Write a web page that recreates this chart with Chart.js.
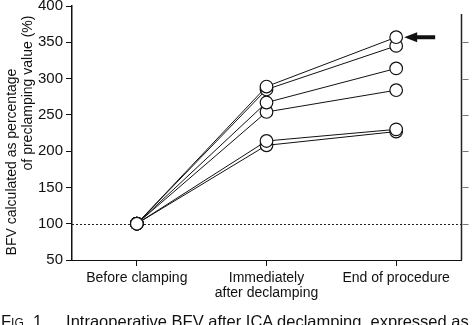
<!DOCTYPE html>
<html>
<head>
<meta charset="utf-8">
<script src="https://cdn.jsdelivr.net/npm/chart.js@4"></script>
<style>
  html, body { margin: 0; padding: 0; background: #fff; }
  #wrap { position: relative; width: 474px; height: 325px; overflow: hidden; }
  #c { position: absolute; left: 0; top: -6px; }
  #caption {
    position: absolute; left: 1px; top: 312px; white-space: nowrap;
    font-family: "Liberation Sans", Arial, sans-serif; font-size: 16.5px; color: #111;
  }
  #caption .fig { font-variant: small-caps; margin-right: 24px; }
</style>
</head>
<body>
<div id="wrap">
  <canvas id="c" width="474" height="331"></canvas>
  <div id="caption"><span class="fig">Fig. 1</span>Intraoperative BFV after ICA declamping, expressed as</div>
</div>
<script>
// categories on the x axis
var timePoints = ['Before clamping', ['Immediately', 'after declamping'], 'End of procedure'];

// one array per patient, % of preclamping BFV
var patient1 = [100, 289, 357];
var patient2 = [100, 285, 345];
var patient3 = [100, 267, 314];
var patient4 = [100, 254, 284];
var patient5 = [100, 214, 230];
var patient6 = [100, 208, 227];

var yTicks = [50, 100, 150, 200, 250, 300, 350, 400];
var yTitle = ['BFV calculated as percentage', 'of preclamping value (%)'];
var baseline = 100;
var arrowPatient = 0; // index of the marked patient

var allPatients = [patient1, patient2, patient3, patient4, patient5, patient6];

var datasets = allPatients.map(function (vals) {
    return {
        data: vals,
        borderColor: '#111',
        borderWidth: 1,
        pointRadius: 6.3,
        pointBorderWidth: 1.2,
        pointBackgroundColor: '#fff',
        pointBorderColor: '#111',
        tension: 0
    };
});

var font = "'Liberation Sans', Arial, sans-serif";

// dotted baseline, right frame with ticks, y title and arrow
var extras = {
    id: 'extras',
    beforeDatasetsDraw: function (chart) {
        var ctx = chart.ctx, area = chart.chartArea, y = chart.scales.y;
        var yb = Math.round(y.getPixelForValue(baseline)) + 0.5;
        ctx.save();
        ctx.strokeStyle = '#222';
        ctx.lineWidth = 1;
        ctx.setLineDash([2, 2]);
        ctx.beginPath();
        ctx.moveTo(area.left, yb);
        ctx.lineTo(area.right, yb);
        ctx.stroke();
        ctx.setLineDash([]);

        // right frame
        var xr = area.right + 0.5;
        ctx.lineWidth = 1.5;
        ctx.beginPath();
        ctx.moveTo(xr, y.getPixelForValue(389));
        ctx.lineTo(xr, area.bottom);
        ctx.stroke();
        ctx.lineWidth = 1;
        ctx.strokeStyle = '#777';
        yTicks.forEach(function (v) {
            if (v === 50 || v === 400) return;
            var p = Math.round(y.getPixelForValue(v)) + 0.5;
            ctx.beginPath();
            ctx.moveTo(xr + 1, p);
            ctx.lineTo(xr + 7, p);
            ctx.stroke();
        });

        // rotated y title, two lines placed like the original
        ctx.fillStyle = '#111';
        ctx.font = '14px ' + font;
        ctx.textAlign = 'center';
        ctx.textBaseline = 'middle';
        var centers = [[12, 168], [28, 99]];
        yTitle.forEach(function (line, i) {
            ctx.save();
            ctx.translate(centers[i][0], centers[i][1]);
            ctx.rotate(-Math.PI / 2);
            ctx.fillText(line, 0, 0);
            ctx.restore();
        });
        ctx.restore();
    },
    afterDatasetsDraw: function (chart) {
        var ctx = chart.ctx;
        var pt = chart.getDatasetMeta(arrowPatient).data[2];
        var x0 = pt.x + 8, yy = pt.y;
        ctx.save();
        ctx.fillStyle = '#111';
        ctx.beginPath();
        ctx.moveTo(x0, yy);
        ctx.lineTo(x0 + 13, yy - 5);
        ctx.lineTo(x0 + 13, yy - 2);
        ctx.lineTo(x0 + 31, yy - 2);
        ctx.lineTo(x0 + 31, yy + 2);
        ctx.lineTo(x0 + 13, yy + 2);
        ctx.lineTo(x0 + 13, yy + 5);
        ctx.closePath();
        ctx.fill();
        ctx.restore();
    }
};

new Chart(document.getElementById('c'), {
    type: 'line',
    data: {
        labels: timePoints,
        datasets: datasets
    },
    options: {
        responsive: false,
        animation: false,
        layout: { padding: { left: 0, right: 13, top: 10, bottom: 20 } },
        plugins: {
            legend: { display: false },
            tooltip: { enabled: false }
        },
        scales: {
            x: {
                offset: true,
                grid: {
                    offset: false,
                    drawOnChartArea: false,
                    tickLength: 6,
                    color: '#111'
                },
                border: { display: true, color: '#111', width: 1 },
                ticks: {
                    color: '#111',
                    padding: 4,
                    maxRotation: 0,
                    font: { family: font, size: 14, lineHeight: 1.1 }
                },
                afterFit: function (s) { s.height = 45; }
            },
            y: {
                min: 50,
                max: 400,
                afterBuildTicks: function (s) {
                    s.ticks = yTicks.map(function (v) { return { value: v }; });
                },
                grid: {
                    drawOnChartArea: false,
                    tickLength: 6,
                    color: '#111'
                },
                border: { display: true, color: '#111', width: 1.5 },
                ticks: {
                    color: '#111',
                    padding: 3,
                    font: { family: font, size: 15 }
                },
                afterFit: function (s) { s.width = 72; }
            }
        }
    },
    plugins: [extras]
});
</script>
</body>
</html>
